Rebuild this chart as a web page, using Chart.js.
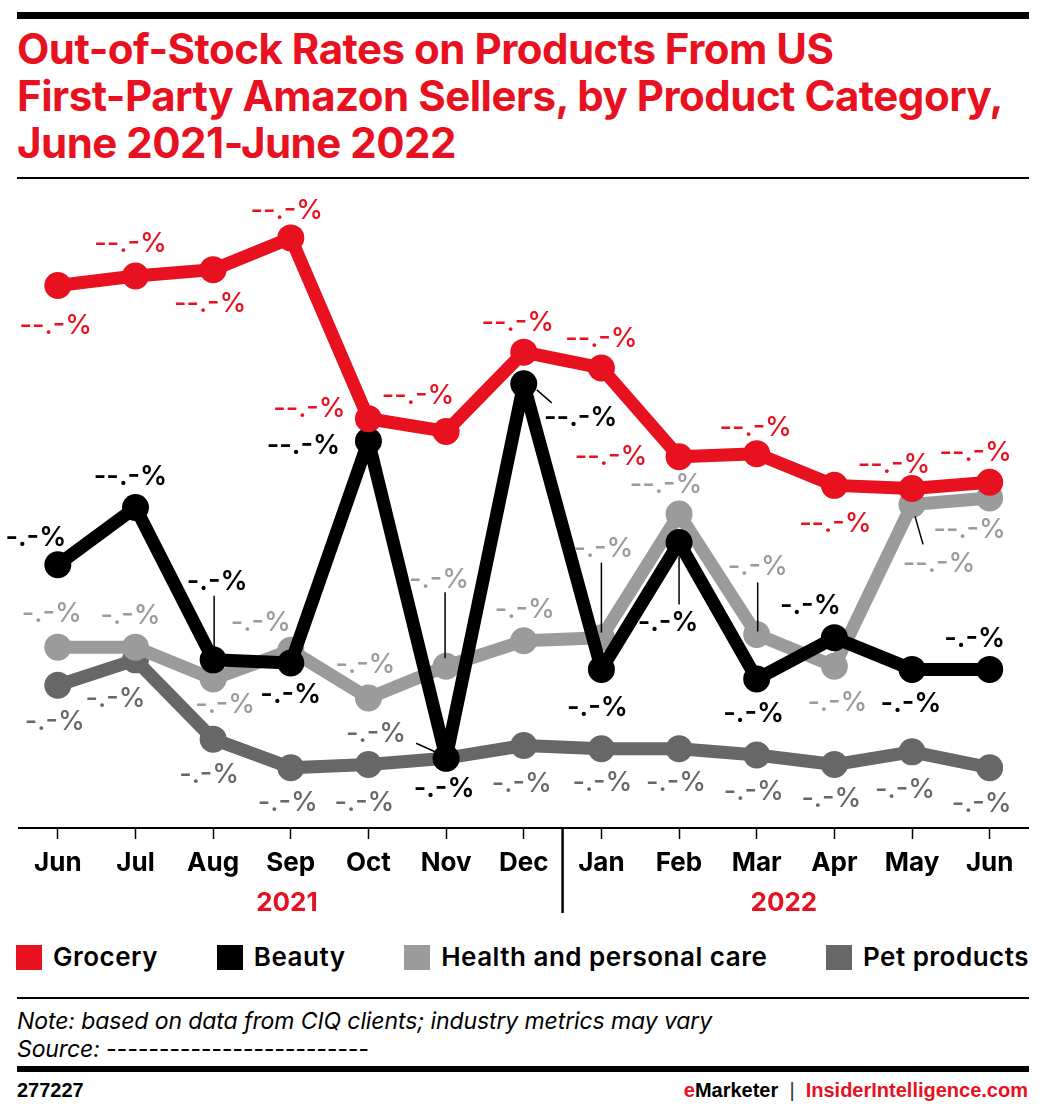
<!DOCTYPE html>
<html>
<head>
<meta charset="utf-8">
<script src="https://cdn.jsdelivr.net/npm/chart.js@4.4.0/dist/chart.umd.min.js"></script>
<style>
  body { margin: 0; background: #fff; width: 1042px; height: 1115px; position: relative; overflow: hidden; font-family: Inter, sans-serif; }
  .rule { position: absolute; left: 17px; width: 1012px; background: #000; }
  #title { position: absolute; left: 17px; top: 25px; margin: 0; font: 700 42px/47px Inter, sans-serif; color: #e8111f; letter-spacing: -0.5px; }
  #chart { position: absolute; left: 0; top: 180px; }
  #legend { position: absolute; left: 16px; width: 1013px; top: 941px; display: flex; justify-content: space-between; font: 600 26px/31px Inter, sans-serif; letter-spacing: 0.5px; color: #000; }
  #legend span.box { display: inline-block; width: 26px; height: 25px; margin-right: 11px; vertical-align: -4px; }
  #note { position: absolute; left: 17px; top: 1007px; font: italic 23px/28px Inter, sans-serif; letter-spacing: -0.1px; color: #000; }
  #id { position: absolute; left: 17px; top: 1079px; font: 700 20px "Liberation Sans", Arial, sans-serif; }
  #brand { position: absolute; right: 14px; top: 1079px; font: 700 20px "Liberation Sans", Arial, sans-serif; color: #000; }
  .red { color: #e8111f; }
</style>
</head>
<body>
<div class="rule" style="top:12px;height:7px"></div>
<h1 id="title">Out-of-Stock Rates on Products From US<br>First-Party Amazon Sellers, by Product Category,<br>June 2021-June 2022</h1>
<div class="rule" style="top:177px;height:2px"></div>
<canvas id="chart" width="1042" height="745"></canvas>
<div id="legend"></div>
<div class="rule" style="top:997px;height:2px"></div>
<div id="note">Note: based on data from CIQ clients; industry metrics may vary<br>Source: -------------------------</div>
<div class="rule" style="top:1066px;height:6px"></div>
<div id="id">277227</div>
<div id="brand"><span class="red">e</span>Marketer &nbsp;<span style="font-weight:400;color:#333">|</span>&nbsp; <span class="red">InsiderIntelligence.com</span></div>
<script>
var months = ['Jun', 'Jul', 'Aug', 'Sep', 'Oct', 'Nov', 'Dec', 'Jan', 'Feb', 'Mar', 'Apr', 'May', 'Jun'];
var years = ['2021', '2022'];
var yearAt = [2.95, 9.35]; // category index each year label sits under

var grocery = [17.1, 17.4, 17.6, 18.6, 12.9, 12.5, 15.0, 14.5, 11.7, 11.8, 10.8, 10.7, 10.9];
var beauty  = [8.3, 10.1, 5.3, 5.2, 12.2, 2.2, 14.0, 5.0, 9.0, 4.7, 6.0, 5.0, 5.0];
var health  = [5.7, 5.7, 4.7, 5.6, 4.1, 5.1, 5.9, 6.0, 9.9, 6.1, 5.1, 10.2, 10.4];
var pet     = [4.5, 5.3, 2.8, 1.9, 2.0, 2.2, 2.6, 2.5, 2.5, 2.3, 2.0, 2.4, 1.9];

var RED = '#e8111f', BLACK = '#000000', LIGHT = '#9b9b9b', DARK = '#676767';

// where each value label sits relative to its point, plus optional leader line
var labelSpots = [
  [[-2,40],[-5,-32],[-3,34],[-4,-27],[-59,-10],[-28,-36],[-6,-29],[0,-29],[-68,0],[-1,-26],[1,39],[-18,-24],[-14,-29]],
  [[-22,-27],[-5,-31],[4,-78,1,-64,1,-10],[0,32],[-65,5],[-2,31],[57,34,13,6,28,19],[-4,38],[-11,80,0,14,0,62],[-3,35],[-24,-32],[-1,34],[-15,-31]],
  [[-6,-33],[-5,-31],[12,26],[-30,-27],[-3,-33],[-7,-86,-1,-74,-1,-8],[1,-31],[2,-89,0,-75,0,-5],[-13,-29],[1,-68,1,-52,1,-3],[3,37],[27,59,3,12,11,40],[-20,32]],
  [[-3,37],[-20,39],[-4,36],[-3,35],[-4,38],[-70,-24,-30,-15,-10,-6],[-2,38],[1,34],[-3,34],[-3,37],[-3,34],[-7,38],[-8,36]]
];
var labelWeight = ['500', '600', '500', '500'];

var valueLabels = {
  id: 'valueLabels',
  afterDatasetsDraw: function(chart) {
    var ctx = chart.ctx;
    ctx.save();
    chart.data.datasets.forEach(function(ds, di) {
      var meta = chart.getDatasetMeta(di);
      meta.data.forEach(function(pt, i) {
        var spot = labelSpots[di][i];
        if (spot.length > 2) {
          ctx.strokeStyle = '#000';
          ctx.lineWidth = 1.5;
          ctx.beginPath();
          ctx.moveTo(pt.x + spot[2], pt.y + spot[3]);
          ctx.lineTo(pt.x + spot[4], pt.y + spot[5]);
          ctx.stroke();
        }
        ctx.fillStyle = ds.borderColor;
        ctx.font = labelWeight[di] + ' 27px Inter, sans-serif';
        ctx.textAlign = 'center';
        ctx.textBaseline = 'middle';
        ctx.fillText(ds.data[i] >= 9.5 ? '--.-%' : '-.-%', pt.x + spot[0], pt.y + spot[1]);
      });
    });
    ctx.restore();
  }
};

var yearBand = {
  id: 'yearBand',
  afterDraw: function(chart) {
    var ctx = chart.ctx, x = chart.scales.x;
    var sep = (x.getPixelForValue(6) + x.getPixelForValue(7)) / 2;
    ctx.save();
    ctx.strokeStyle = '#000';
    ctx.lineWidth = 2.5;
    ctx.beginPath();
    ctx.moveTo(sep, x.top);
    ctx.lineTo(sep, x.top + 85);
    ctx.stroke();
    ctx.fillStyle = RED;
    ctx.font = '700 26px Inter, sans-serif';
    ctx.textAlign = 'center';
    ctx.textBaseline = 'middle';
    years.forEach(function(y, i) {
      ctx.fillText(y, x.getPixelForValue(yearAt[i]), x.top + 75);
    });
    ctx.restore();
  }
};

var ctx = document.getElementById('chart').getContext('2d');
var chart = new Chart(ctx, {
  type: 'line',
  data: {
    labels: months,
    datasets: [
      { label: 'Grocery', data: grocery, borderColor: RED, backgroundColor: RED },
      { label: 'Beauty', data: beauty, borderColor: BLACK, backgroundColor: BLACK },
      { label: 'Health and personal care', data: health, borderColor: LIGHT, backgroundColor: LIGHT },
      { label: 'Pet products', data: pet, borderColor: DARK, backgroundColor: DARK }
    ]
  },
  options: {
    responsive: false,
    animation: false,
    layout: { padding: { left: 19, right: 7, top: 10, bottom: 0 } },
    elements: {
      line: { borderWidth: 13, tension: 0, borderJoinStyle: 'round', borderCapStyle: 'round' },
      point: { radius: 13.5, borderWidth: 0, hoverRadius: 13.5 }
    },
    plugins: {
      legend: { display: false },
      tooltip: { enabled: false }
    },
    scales: {
      x: {
        offset: true,
        grid: { offset: false, drawOnChartArea: false, drawTicks: true, tickLength: 11, tickWidth: 1.5, tickColor: '#000' },
        border: { color: '#000', width: 2 },
        ticks: { color: '#000', padding: 9, font: { family: 'Inter', weight: '700', size: 26 } },
        afterFit: function(scale) { scale.height = 97; }
      },
      y: { display: false, min: 0, max: 20 }
    }
  },
  plugins: [valueLabels, yearBand]
});

// legend built from the chart's own datasets
var legend = document.getElementById('legend');
chart.data.datasets.forEach(function(ds) {
  var item = document.createElement('div');
  item.innerHTML = '<span class="box" style="background:' + ds.backgroundColor + '"></span>' + ds.label;
  legend.appendChild(item);
});
</script>
</body>
</html>
